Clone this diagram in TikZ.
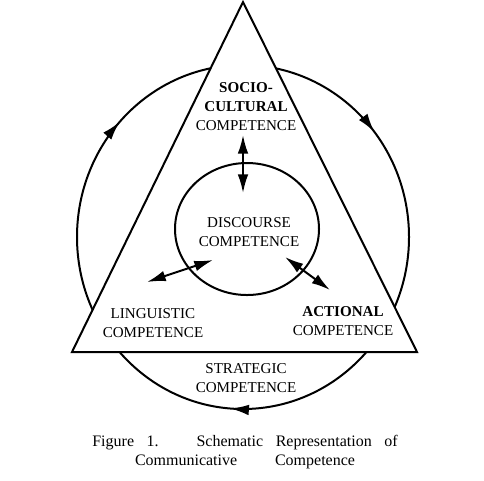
\documentclass[tikz,border=0pt]{standalone}
\usepackage{fontspec}
\setmainfont{Liberation Serif}
\usetikzlibrary{arrows.meta,decorations.markings}

\begin{document}
\begin{tikzpicture}[x=0.75pt,y=-0.75pt,line width=1.5pt,
  every node/.style={font=\fontsize{11.3}{14.25}\selectfont,align=center,inner sep=0pt},
  head/.tip={Latex[length=14pt,width=8pt]},
  dbl/.style={head-head}]
 \useasboundingbox (0,0) rectangle (484,480);
 % outer cycle, running round clockwise
 \draw[postaction={decorate},decoration={markings,
   mark=at position 0.262 with {\arrow{head}},
   mark=at position 0.618 with {\arrow{head}},
   mark=at position 0.894 with {\arrow{head}}}]
   (243,237) ellipse [x radius=166, y radius=172];
 % triangle and inner circle
 \coordinate (top) at (243,2);
 \coordinate (bl) at (72,352);
 \coordinate (br) at (417,352);
 \draw[fill=white] (top) -- (bl) -- (br) -- cycle;
 \draw (247,229) ellipse [x radius=72, y radius=66];
 % labels
 \node (soc) at (246,107) {\textbf{SOCIO-}\\\textbf{CULTURAL}\\COMPETENCE};
 \node (dis) at (249,232) {DISCOURSE\\COMPETENCE};
 \node (lin) at (153,323) {LINGUISTIC\\COMPETENCE};
 \node (act) at (343,321) {\textbf{ACTIONAL}\\COMPETENCE};
 \node (str) at (246,378) {STRATEGIC\\COMPETENCE};
 \node[font=\fontsize{12}{14.25}\selectfont] (cap) at (245,452)
   {\makebox[229pt][s]{Figure\ 1.\ \ \ Schematic\ Representation\ of}\\
   \makebox[165pt][s]{Communicative\ Competence}};
 % double arrows
 \coordinate (sa) at (243,135);
 \coordinate (sb) at (243,193);
 \coordinate (la) at (147,282);
 \coordinate (lb) at (213,260);
 \coordinate (ra) at (285,257);
 \coordinate (rb) at (330,290);
 \draw[dbl] (sa) -- (sb);
 \draw[dbl] (la) -- (lb);
 \draw[dbl] (ra) -- (rb);
\end{tikzpicture}
\end{document}
